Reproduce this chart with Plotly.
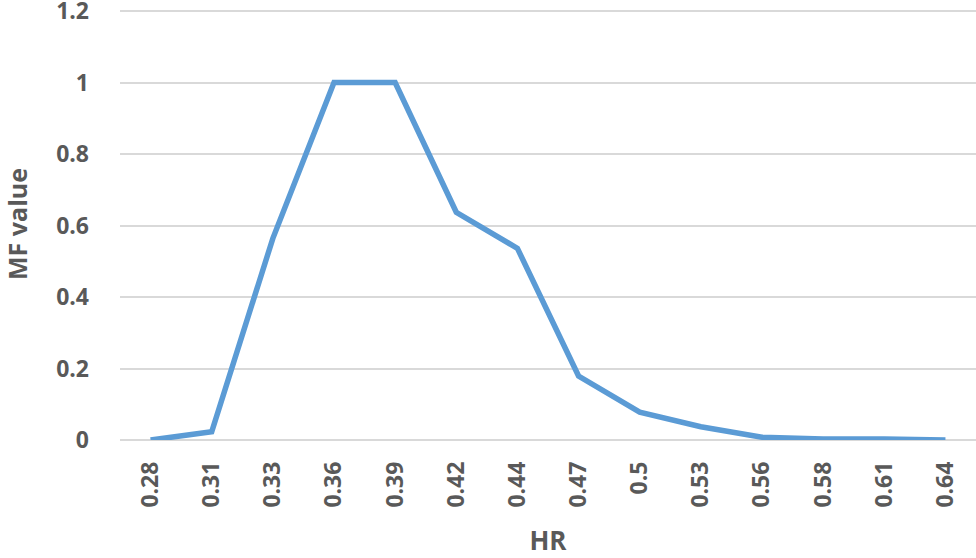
import plotly.graph_objects as go

hr_labels = ["0.28", "0.31", "0.33", "0.36", "0.39", "0.42", "0.44",
             "0.47", "0.5", "0.53", "0.56", "0.58", "0.61", "0.64"]
mf_values = [0.0, 0.023, 0.564, 1.0, 1.0, 0.637, 0.536,
             0.179, 0.078, 0.037, 0.008, 0.003, 0.003, 0.0]

grey = "#595959"
font_name = "Open Sans"

fig = go.Figure()
fig.add_trace(go.Scatter(x=hr_labels, y=mf_values, mode="lines",
                         line=dict(color="#5B9BD5", width=5.5),
                         showlegend=False))

fig.update_layout(
    width=976, height=558,
    margin=dict(l=120, r=0, t=8, b=118),
    plot_bgcolor="white", paper_bgcolor="white",
    font=dict(family=font_name, color=grey),
)
fig.update_xaxes(type="category", range=[-0.5, 13.5], automargin=False,
                 tickangle=-90, showgrid=False,
                 showline=False, zeroline=False, ticks="",
                 ticklabelstandoff=16,
                 tickfont=dict(size=23, family=font_name, color=grey, weight="bold"),
                 title=dict(text="<b>HR</b>", font=dict(size=26, color=grey),
                            standoff=30))
# range goes a bit past 1.2 so the top gridline is kept
fig.update_yaxes(range=[0, 1.2084], dtick=0.2, automargin=False,
                 showgrid=True, gridcolor="#D9D9D9",
                 gridwidth=2, zeroline=True, zerolinecolor="#D9D9D9",
                 zerolinewidth=2, showline=False, ticks="",
                 ticklabelstandoff=30, ticklabeloverflow="allow",
                 tickfont=dict(size=23, family=font_name, color=grey, weight="bold"),
                 title=dict(text="<b>MF value</b>", font=dict(size=25, color=grey),
                            standoff=22))

# drop the page's default body margin
fig.write_html("out.html", config={"displayModeBar": False},
               post_script="document.body.style.margin = '0';")
